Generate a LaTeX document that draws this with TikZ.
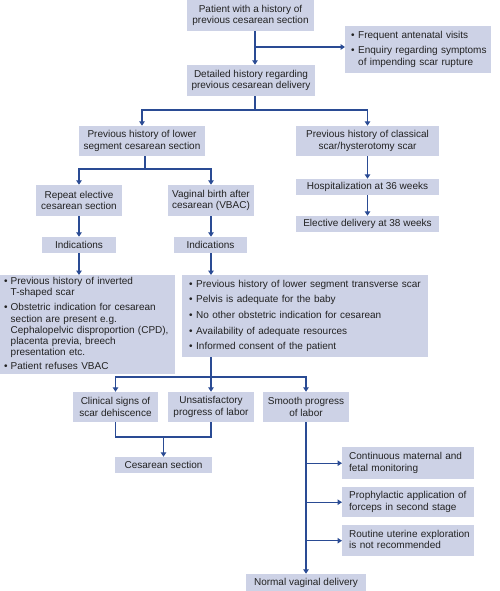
\documentclass[tikz,border=0pt]{standalone}
\usepackage{fontspec}
\setmainfont{Liberation Sans}
\usetikzlibrary{arrows.meta}
\definecolor{boxc}{HTML}{CDD2E6}
\definecolor{arrc}{HTML}{2A4B94}
\definecolor{txtc}{HTML}{222222}
\begin{document}
\begin{tikzpicture}[x=1pt,y=-1pt,
  box/.style={fill=boxc, inner sep=0pt, align=center, text=txtc,
    font=\fontsize{10}{11.5}\selectfont},
  lst/.style={fill=boxc, inner ysep=0pt, inner xsep=5pt, align=left, text=txtc,
    anchor=north west, font=\fontsize{10}{11.3}\selectfont},
  ln/.style={draw=arrc, line width=1.4pt},
  arr/.style={ln, -{Triangle[length=4.5pt,width=5.5pt]}}]
\useasboundingbox (0,0) rectangle (500,591);

% top
\node[box, minimum width=127pt, minimum height=31pt] (n1) at (250.5,15.5)
  {Patient with a history of\\previous cesarean section};
\node[lst, inner xsep=6pt, text width=134pt, minimum height=47pt] (fav) at (345,26)
  {\begin{tabular}{@{}l@{\hspace{3.5pt}}l@{}}
   \textbullet & Frequent antenatal visits\\[4pt]
   \textbullet & Enquiry regarding symptoms\\
               & of impending scar rupture
   \end{tabular}};
\node[box, minimum width=128pt, minimum height=31pt] (n2) at (251,80.5)
  {Detailed history regarding\\previous cesarean delivery};

% second level
\node[box, minimum width=126pt, minimum height=30pt] (lsc) at (142,141)
  {Previous history of lower\\segment cesarean section};
\node[box, minimum width=143pt, minimum height=30pt] (cls) at (367.5,141)
  {Previous history of classical\\scar/hysterotomy scar};
\node[box, minimum width=143pt, minimum height=16pt] (hosp) at (367.5,187)
  {Hospitalization at 36 weeks};
\node[box, minimum width=143pt, minimum height=16pt] (elec) at (367.5,224)
  {Elective delivery at 38 weeks};

\node[box, minimum width=86pt, minimum height=31pt] (rep) at (79,200.5)
  {Repeat elective\\cesarean section};
\node[box, minimum width=86pt, minimum height=31pt] (vbac) at (211,200.5)
  {Vaginal birth after\\cesarean (VBAC)};
\node[box, minimum width=74pt, minimum height=16pt] (ind1) at (79,245)
  {Indications};
\node[box, minimum width=73pt, minimum height=16pt] (ind2) at (210.5,245)
  {Indications};

% lists
\node[lst, inner xsep=4pt, text width=167pt, minimum height=99pt] (L) at (0,275)
  {\begin{tabular}{@{}l@{\hspace{3pt}}l@{}}
   \textbullet & Previous history of inverted\\
               & T-shaped scar\\[3.5pt]
   \textbullet & Obstetric indication for cesarean\\
               & section are present e.g.\\
               & Cephalopelvic disproportion (CPD),\\
               & placenta previa, breech\\
               & presentation etc.\\[2pt]
   \textbullet & Patient refuses VBAC
   \end{tabular}};
\node[lst, inner xsep=7pt, text width=232pt, minimum height=82pt] (R) at (182,275)
  {\begin{tabular}{@{}l@{\hspace{3.5pt}}l@{}}
   \textbullet & Previous history of lower segment transverse scar\\[4.3pt]
   \textbullet & Pelvis is adequate for the baby\\[4.3pt]
   \textbullet & No other obstetric indication for cesarean\\[4.3pt]
   \textbullet & Availability of adequate resources\\[4.3pt]
   \textbullet & Informed consent of the patient
   \end{tabular}};

% labor outcomes
\node[box, minimum width=85pt, minimum height=30pt] (clin) at (115.5,407)
  {Clinical signs of\\scar dehiscence};
\node[box, minimum width=86pt, minimum height=30pt] (unsat) at (211,407)
  {Unsatisfactory\\progress of labor};
\node[box, minimum width=86pt, minimum height=30pt] (smooth) at (306,407)
  {Smooth progress\\of labor};
\node[box, minimum width=97pt, minimum height=16pt] (cs) at (163.5,465)
  {Cesarean section};
\node[box, minimum width=120pt, minimum height=17pt] (nvd) at (306,582.5)
  {Normal vaginal delivery};

\node[lst, inner xsep=7pt, text width=118pt, minimum height=32pt] (m1) at (342,447)
  {\begin{tabular}{@{}l@{}}Continuous maternal and\\fetal monitoring\end{tabular}};
\node[lst, inner xsep=7pt, text width=118pt, minimum height=30pt] (m2) at (342,487)
  {\begin{tabular}{@{}l@{}}Prophylactic application of\\forceps in second stage\end{tabular}};
\node[lst, inner xsep=7pt, text width=118pt, minimum height=31pt] (m3) at (342,525)
  {\begin{tabular}{@{}l@{}}Routine uterine exploration\\is not recommended\end{tabular}};

% connectors
\coordinate (j0) at (255,47);
\draw[arr] (n1.south -| j0) -- (n2.north -| j0);
\draw[arr] (j0) -- (j0 -| fav.west);
\coordinate (j1) at (255,110);
\draw[ln] (n2.south -| j1) -- (j1);
\draw[arr] (j1) -| (lsc.north);
\draw[arr] (j1) -| (cls.north);
\coordinate (j2) at (145,169);
\draw[ln] (lsc.south -| j2) -- (j2);
\draw[arr] (j2) -| (rep.north);
\draw[arr] (j2) -| (vbac.north);
\draw[arr] (rep.south) -- (rep.south |- ind1.north);
\draw[arr] (vbac.south) -- (vbac.south |- ind2.north);
\draw[arr] (ind1.south) -- (ind1.south |- L.north);
\draw[arr] (vbac.south |- ind2.south) -- (vbac.south |- R.north);
\draw[arr] (cls) -- (hosp);
\draw[arr] (hosp) -- (elec);
\coordinate (j3) at (211,377);
\draw[ln] (R.south -| j3) -- (j3);
\draw[arr] (j3) -| (clin.north);
\draw[arr] (j3) -- (unsat.north -| j3);
\draw[arr] (j3) -| (smooth.north);
\coordinate (j4) at (163.5,437);
\draw[ln] (clin.south) |- (j4) -| (unsat.south);
\draw[arr] (j4) -- (cs.north);
\draw[arr] (smooth.south) -- (nvd.north);
\draw[arr] (smooth.south |- m1.west) -- (m1.west);
\draw[arr] (smooth.south |- m2.west) -- (m2.west);
\draw[arr] (smooth.south |- m3.west) -- (m3.west);
\end{tikzpicture}
\end{document}
